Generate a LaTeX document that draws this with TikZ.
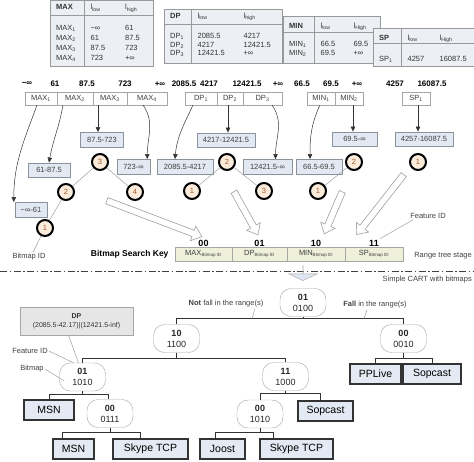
\documentclass[tikz,border=0pt]{standalone}
\usepackage{fontspec}
\setmainfont{Liberation Sans}
\usepackage{array, colortbl}
\usetikzlibrary{arrows.meta, shapes.arrows, calc, positioning}

\definecolor{tblfill}{HTML}{ECEFF4}
\definecolor{rngfill}{HTML}{E2E9F3}
\definecolor{rngline}{HTML}{8A929C}
\definecolor{circfill}{HTML}{FBEBDB}
\definecolor{circnum}{HTML}{A85A28}
\definecolor{keyfill}{HTML}{EEF0DA}
\definecolor{leaffill}{HTML}{E3EAF3}
\definecolor{callfill}{HTML}{E6E6E6}
\definecolor{downfill}{HTML}{DDE6F2}

\newcommand{\txt}{\fontsize{7.5}{9}\selectfont}
\newcommand{\keysub}{\textsubscript{\fontsize{4.5}{5}\selectfont Bitmap ID}}
\newcommand{\hollowarrow}[2]{%
  \path let \p1=($(#2)-(#1)$), \n1={atan2(\y1,\x1)}, \n2={veclen(\x1,\y1)} in
    node[harrow, rotate=\n1, minimum height=\n2] at ($(#1)!0.5!(#2)$) {};}

\tikzset{
  tbl/.style={draw=gray!80, fill=tblfill, inner sep=0pt, text=black!80},
  numlab/.style={font=\fontsize{8}{9}\selectfont\bfseries, inner sep=1pt},
  ivbox/.style={draw=gray!70, fill=white, minimum height=13pt, inner sep=0pt, outer sep=0pt, font=\txt, text=black!75},
  rbox/.style={draw=rngline, fill=rngfill, minimum height=14.5pt, inner xsep=2pt, inner ysep=0pt, font=\txt, text=black!75},
  arr/.style={draw=black!80, line width=0.5pt, -{Triangle[length=5pt,width=4.5pt]}},
  cnum/.style={circle, draw=black, line width=2pt, fill=circfill, minimum size=16pt, inner sep=0pt, font=\txt, text=circnum},
  tline/.style={draw=gray!75, line width=0.5pt},
  harrow/.style={single arrow, draw=gray!75, fill=white, line width=0.6pt, inner xsep=0pt, inner ysep=3pt, minimum width=0pt, single arrow head extend=4.5pt, single arrow tip angle=80},
  keycell/.style={draw=gray!70, fill=keyfill, minimum height=14pt, inner sep=0pt, outer sep=0pt, font=\txt, text=black!75},
  bitlab/.style={font=\fontsize{9}{10}\selectfont\bfseries, inner sep=1pt},
  note/.style={font=\txt, text=black!75, inner sep=1pt},
  sepline/.style={draw=black!75, line width=0.8pt, dash pattern=on 7pt off 2.5pt on 1.5pt off 2.5pt},
  oval/.style={draw=gray!70, fill=white, rounded corners=11pt, minimum width=46pt, minimum height=28pt, inner sep=1pt, align=center, font=\fontsize{9}{11}\selectfont, text=black!85},
  leaf/.style={draw=black!80, line width=1.1pt, fill=leaffill, minimum height=20pt, inner sep=0pt, font=\fontsize{10.5}{12}\selectfont},
  eline/.style={draw=black!80, line width=0.9pt},
  callout/.style={draw=gray!70, fill=callfill, minimum width=113pt, minimum height=28pt, inner sep=1pt, align=center, font=\fontsize{7}{9}\selectfont, text=black!80}
}

\begin{document}
\begin{tikzpicture}[x=1pt, y=-1pt]
  \useasboundingbox (0,0) rectangle (474,461);

  \node[tbl, anchor=north west] (maxtab) at (50,0) {\fontsize{7.5}{10}\selectfont\arrayrulecolor{gray!80}%
    \begin{tabular}{p{22pt}|p{22.5pt}p{22.5pt}}
      \textbf{MAX} & l\textsubscript{low} & l\textsubscript{high}\rule[-5.5pt]{0pt}{15pt}\\ \hline
      MAX\textsubscript{1}\rule{0pt}{15pt} & −∞ & 61\\
      MAX\textsubscript{2} & 61 & 87.5\\
      MAX\textsubscript{3} & 87.5 & 723\\
      MAX\textsubscript{4}\rule[-6pt]{0pt}{6pt} & 723 & +∞
    \end{tabular}};
  \node[tbl, anchor=north west] (dptab) at (164,9) {\fontsize{7.5}{8.5}\selectfont\arrayrulecolor{gray!80}%
    \begin{tabular}{p{15pt}|p{34pt}p{33pt}}
      \textbf{DP} & l\textsubscript{low} & l\textsubscript{high}\rule[-6pt]{0pt}{15pt}\\ \hline
      DP\textsubscript{1}\rule{0pt}{14pt} & 2085.5 & 4217\\
      DP\textsubscript{2} & 4217 & 12421.5\\
      DP\textsubscript{3}\rule[-8pt]{0pt}{8pt} & 12421.5 & +∞
    \end{tabular}};
  \node[tbl, anchor=north west] (mintab) at (283,16) {\fontsize{7.5}{9}\selectfont\arrayrulecolor{gray!80}%
    \begin{tabular}{p{19pt}|p{21pt}p{21pt}}
      \textbf{MIN} & l\textsubscript{low} & l\textsubscript{High}\rule[-4pt]{0pt}{16pt}\\ \hline
      MIN\textsubscript{1}\rule{0pt}{14pt} & 66.5 & 69.5\\
      MIN\textsubscript{2}\rule[-8pt]{0pt}{8pt} & 69.5 & +∞
    \end{tabular}};
  \node[tbl, anchor=north west] (sptab) at (373,28) {\fontsize{7.5}{9}\selectfont\arrayrulecolor{gray!80}%
    \begin{tabular}{p{16pt}|p{20pt}p{35pt}}
      \textbf{SP} & l\textsubscript{low} & l\textsubscript{High}\rule[-2pt]{0pt}{14pt}\\ \hline
      SP\textsubscript{1}\rule[-5pt]{0pt}{23pt} & 4257 & 16087.5
    \end{tabular}};

  \node[numlab] (bmax0) at (27,84) {−∞};
  \node[numlab] (bmax1) at (55,84) {61};
  \node[numlab] (bmax2) at (87,84) {87.5};
  \node[numlab] (bmax3) at (125,84) {723};
  \node[numlab] (bmax4) at (160,84) {+∞};
  \node[numlab] (bdp0) at (184,84) {2085.5};
  \node[numlab] (bdp1) at (209,84) {4217};
  \node[numlab] (bdp2) at (247,84) {12421.5};
  \node[numlab] (bdp3) at (278,84) {+∞};
  \node[numlab] (bmin0) at (302,84) {66.5};
  \node[numlab] (bmin1) at (331,84) {69.5};
  \node[numlab] (bmin2) at (357,84) {+∞};
  \node[numlab] (bsp0) at (395,84) {4257};
  \node[numlab] (bsp1) at (432,84) {16087.5};

  \node[ivbox, minimum width=32pt, anchor=west] (max1) at (25,98.5) {MAX\textsubscript{1}};
  \node[ivbox, minimum width=36pt, right=0pt of max1] (max2) {MAX\textsubscript{2}};
  \node[ivbox, minimum width=34pt, right=0pt of max2] (max3) {MAX\textsubscript{3}};
  \node[ivbox, minimum width=40pt, right=0pt of max3] (max4) {MAX\textsubscript{4}};
  \node[ivbox, minimum width=32pt, anchor=west] (dp1) at (185,98.5) {DP\textsubscript{1}};
  \node[ivbox, minimum width=26pt, right=0pt of dp1] (dp2) {DP\textsubscript{2}};
  \node[ivbox, minimum width=39pt, right=0pt of dp2] (dp3) {DP\textsubscript{3}};
  \node[ivbox, minimum width=28pt, anchor=west] (min1) at (307,98.5) {MIN\textsubscript{1}};
  \node[ivbox, minimum width=28pt, right=0pt of min1] (min2) {MIN\textsubscript{2}};
  \node[ivbox, minimum width=28pt, anchor=west] (sp1) at (402,98.5) {SP\textsubscript{1}};

  \node[rbox, minimum width=43pt] (r875) at (102,139.5) {87.5-723};
  \node[rbox, minimum width=42pt] (r61) at (49,170) {61-87.5};
  \node[rbox, minimum width=33pt] (r723) at (133.5,166.5) {723-∞};
  \node[rbox, minimum width=32pt] (rminf) at (31,209.5) {−∞-61};
  \node[rbox, minimum width=56pt] (r2085) at (185,166.5) {2085.5-4217};
  \node[rbox, minimum width=58pt] (r4217) at (226,140) {4217-12421.5};
  \node[rbox, minimum width=49pt] (r12421) at (267.5,166.5) {12421.5-∞};
  \node[rbox, minimum width=46pt] (r665) at (319,166.5) {66.5-69.5};
  \node[rbox, minimum width=45pt] (r695) at (354.5,139) {69.5-∞};
  \node[rbox, minimum width=58pt] (r4257) at (424,139) {4257-16087.5};

  \draw[arr] ([xshift=-4pt]max1.south) to[out=-110, in=90] ([xshift=-1pt]rminf.north west);
  \draw[arr] ([xshift=-12pt]max2.south) to[out=-100, in=80] (r61.north);
  \draw[arr] ([xshift=-12pt]max3.south) -- ([xshift=-4pt]r875.north);
  \draw[arr] ([xshift=-4pt]max4.south) to[out=-55, in=90] ([xshift=-3pt]r723.north east);
  \draw[arr] ([xshift=-8pt]dp1.south) to[out=-115, in=85] ([xshift=-10pt]r2085.north);
  \draw[arr] ([xshift=-2pt]dp2.south) -- ([xshift=2pt]r4217.north);
  \draw[arr] ([xshift=9.5pt]dp3.south) to[out=-55, in=90] ([xshift=8pt]r12421.north);
  \draw[arr] ([xshift=-1pt]min1.south) to[out=-115, in=90] ([xshift=-9pt]r665.north);
  \draw[arr] ([xshift=4pt]min2.south) -- ([xshift=-1.5pt]r695.north);
  \draw[arr] ([xshift=2pt]sp1.south) -- ([xshift=-6pt]r4257.north);

  \node[cnum] (cmax3) at (100,162) {3};
  \node[cnum] (cmax2) at (66,192) {2};
  \node[cnum] (cmax4) at (135,192) {4};
  \node[cnum] (cmax1) at (45,228) {1};
  \node[cnum] (cdp2) at (227,162) {2};
  \node[cnum] (cdp1) at (192,191) {1};
  \node[cnum] (cdp3) at (264,191) {3};
  \node[cnum] (cmin2) at (354,162) {2};
  \node[cnum] (cmin1) at (318,191) {1};
  \node[cnum] (csp1) at (418,162) {1};
  \draw[tline] (cmax3) -- (cmax2);
  \draw[tline] (cmax3) -- (cmax4);
  \draw[tline] (cmax2) -- (cmax1);
  \draw[tline] (cdp2) -- (cdp1);
  \draw[tline] (cdp2) -- (cdp3);
  \draw[tline] (cmin2) -- (cmin1);

  \node[note] (bmid) at (29,257) {Bitmap ID};
  \draw[tline] (cmax1) -- ([xshift=4pt]bmid.north);

  \node[keycell, minimum width=57pt, anchor=west] (kmax) at (175,254) {MAX\keysub};
  \node[keycell, minimum width=55pt, right=0pt of kmax] (kdp) {DP\keysub};
  \node[keycell, minimum width=58pt, right=0pt of kdp] (kmin) {MIN\keysub};
  \node[keycell, minimum width=58pt, right=0pt of kmin] (ksp) {SP\keysub};
  \node[font=\fontsize{8.5}{10}\selectfont\bfseries, left=3pt of kmax] (bskey) {Bitmap Search Key};
  \node[bitlab, above=-1pt of kmax] (b00) {00};
  \node[bitlab, above=-1pt of kdp] (b01) {01};
  \node[bitlab, above=-1pt of kmin] (b10) {10};
  \node[bitlab, above=-1pt of ksp] (b11) {11};
  \node[note] (fid) at (428,216) {Feature ID};
  \draw[tline] ([xshift=4pt]fid.south west) -- ([yshift=5pt]b11.east);

  \coordinate (h1a) at (105,200); \coordinate (h1b) at (200,236);
  \coordinate (h2a) at (233,190); \coordinate (h2b) at (257,233);
  \coordinate (h3a) at (343,190); \coordinate (h3b) at (325,232);
  \coordinate (h4a) at (405,173); \coordinate (h4b) at (358,233);
  \hollowarrow{h1a}{h1b}
  \hollowarrow{h2a}{h2b}
  \hollowarrow{h3a}{h3b}
  \hollowarrow{h4a}{h4b}

  \node[note, anchor=east] (rtstage) at (473,256) {Range tree stage};
  \coordinate (sepL) at (0,271);
  \coordinate (sepR) at (474,271);
  \draw[sepline] (sepL) -- (sepR);
  \node[single arrow, rotate=-90, draw=gray!70, fill=downfill, inner sep=0pt, minimum height=15pt, minimum width=9pt,
        single arrow head extend=14pt, single arrow tip angle=130] (dnarr) at (303,273) {};
  \node[note, anchor=east] (cart) at (473,280) {Simple CART with bitmaps};

  \node[oval] (root) at (303,302.5) {\textbf{01}\\0100};
  \node[oval] (n10) at (176.5,338.5) {\textbf{10}\\1100};
  \node[oval] (n00r) at (403.5,338.5) {\textbf{00}\\0010};
  \node[oval] (n01) at (82.5,377) {\textbf{01}\\1010};
  \node[oval] (n11) at (285.5,376.5) {\textbf{11}\\1000};
  \node[oval] (n00a) at (110,413.5) {\textbf{00}\\0111};
  \node[oval] (n00b) at (260,414) {\textbf{00}\\1010};
  \node[leaf, minimum width=50pt] (msn1) at (49,410) {MSN};
  \node[leaf, minimum width=55pt] (sop1) at (325.5,411) {Sopcast};
  \node[leaf, minimum width=51pt] (pplive) at (375.5,374) {PPLive};
  \node[leaf, minimum width=58pt] (sop2) at (432,374) {Sopcast};
  \node[leaf, minimum width=41pt] (msn2) at (73.5,449) {MSN};
  \node[leaf, minimum width=75pt] (skype1) at (150.5,449) {Skype TCP};
  \node[leaf, minimum width=45pt] (joost) at (222.5,449) {Joost};
  \node[leaf, minimum width=73pt] (skype2) at (296.5,449) {Skype TCP};

  \draw[eline] (root.south) -- ++(0,2) coordinate (rbar);
  \draw[eline] (n10.north) |- (rbar) -| (n00r.north);
  \draw[eline] (n10.south) -- ++(0,5.5) coordinate (b10bar);
  \draw[eline] (n01.north) |- (b10bar) -| (n11.north);
  \draw[eline] (n00r.south) -- ++(0,5.5) coordinate (b00bar);
  \draw[eline] (pplive.north) |- (b00bar) -| (sop2.north);
  \draw[eline] (n01.south) -- ++(0,3) coordinate (b01bar);
  \draw[eline] (msn1.north) |- (b01bar) -| ([xshift=-2pt]n00a.north);
  \draw[eline] (n11.south) -- ++(0,2.5) coordinate (b11bar);
  \draw[eline] (n00b.north) |- (b11bar) -| ([xshift=-5pt]sop1.north);
  \draw[eline] (n00a.south) -- ++(0,4.5) coordinate (b0abar);
  \draw[eline] ([xshift=-11.5pt]msn2.north) |- (b0abar) -| ([xshift=-10.5pt]skype1.north);
  \draw[eline] (n00b.south) -- ++(0,4) coordinate (b0bbar);
  \draw[eline] ([xshift=-7pt]joost.north) |- (b0bbar) -| ([xshift=-23.5pt]skype2.north);

  \node[note] (nofall) at (226,304) {\textbf{Not} fall in the range(s)};
  \node[note] (fall) at (375,305) {\textbf{Fall} in the range(s)};
  \draw[tline] ([xshift=29pt]nofall.south) -- ([xshift=26pt]nofall.south |- rbar);
  \draw[tline] ([xshift=-8pt]fall.south) -- ([xshift=-11pt]fall.south |- rbar);

  \node[callout] (dpnote) at (76.5,321) {\textbf{DP}\\(2085.5-42.17)|(12421.5-inf)};
  \draw[tline] ([xshift=-8pt]dpnote.south) -- ([xshift=-4pt]n01.north);
  \node[note] (fid2) at (30,351) {Feature ID};
  \draw[tline] (fid2.east) -- ([xshift=-9pt]n01.north);
  \node[note] (bmp) at (32,369) {Bitmap};
  \draw[tline] (bmp.east) -- ([xshift=5pt,yshift=-4pt]n01.west);
\end{tikzpicture}
\end{document}
